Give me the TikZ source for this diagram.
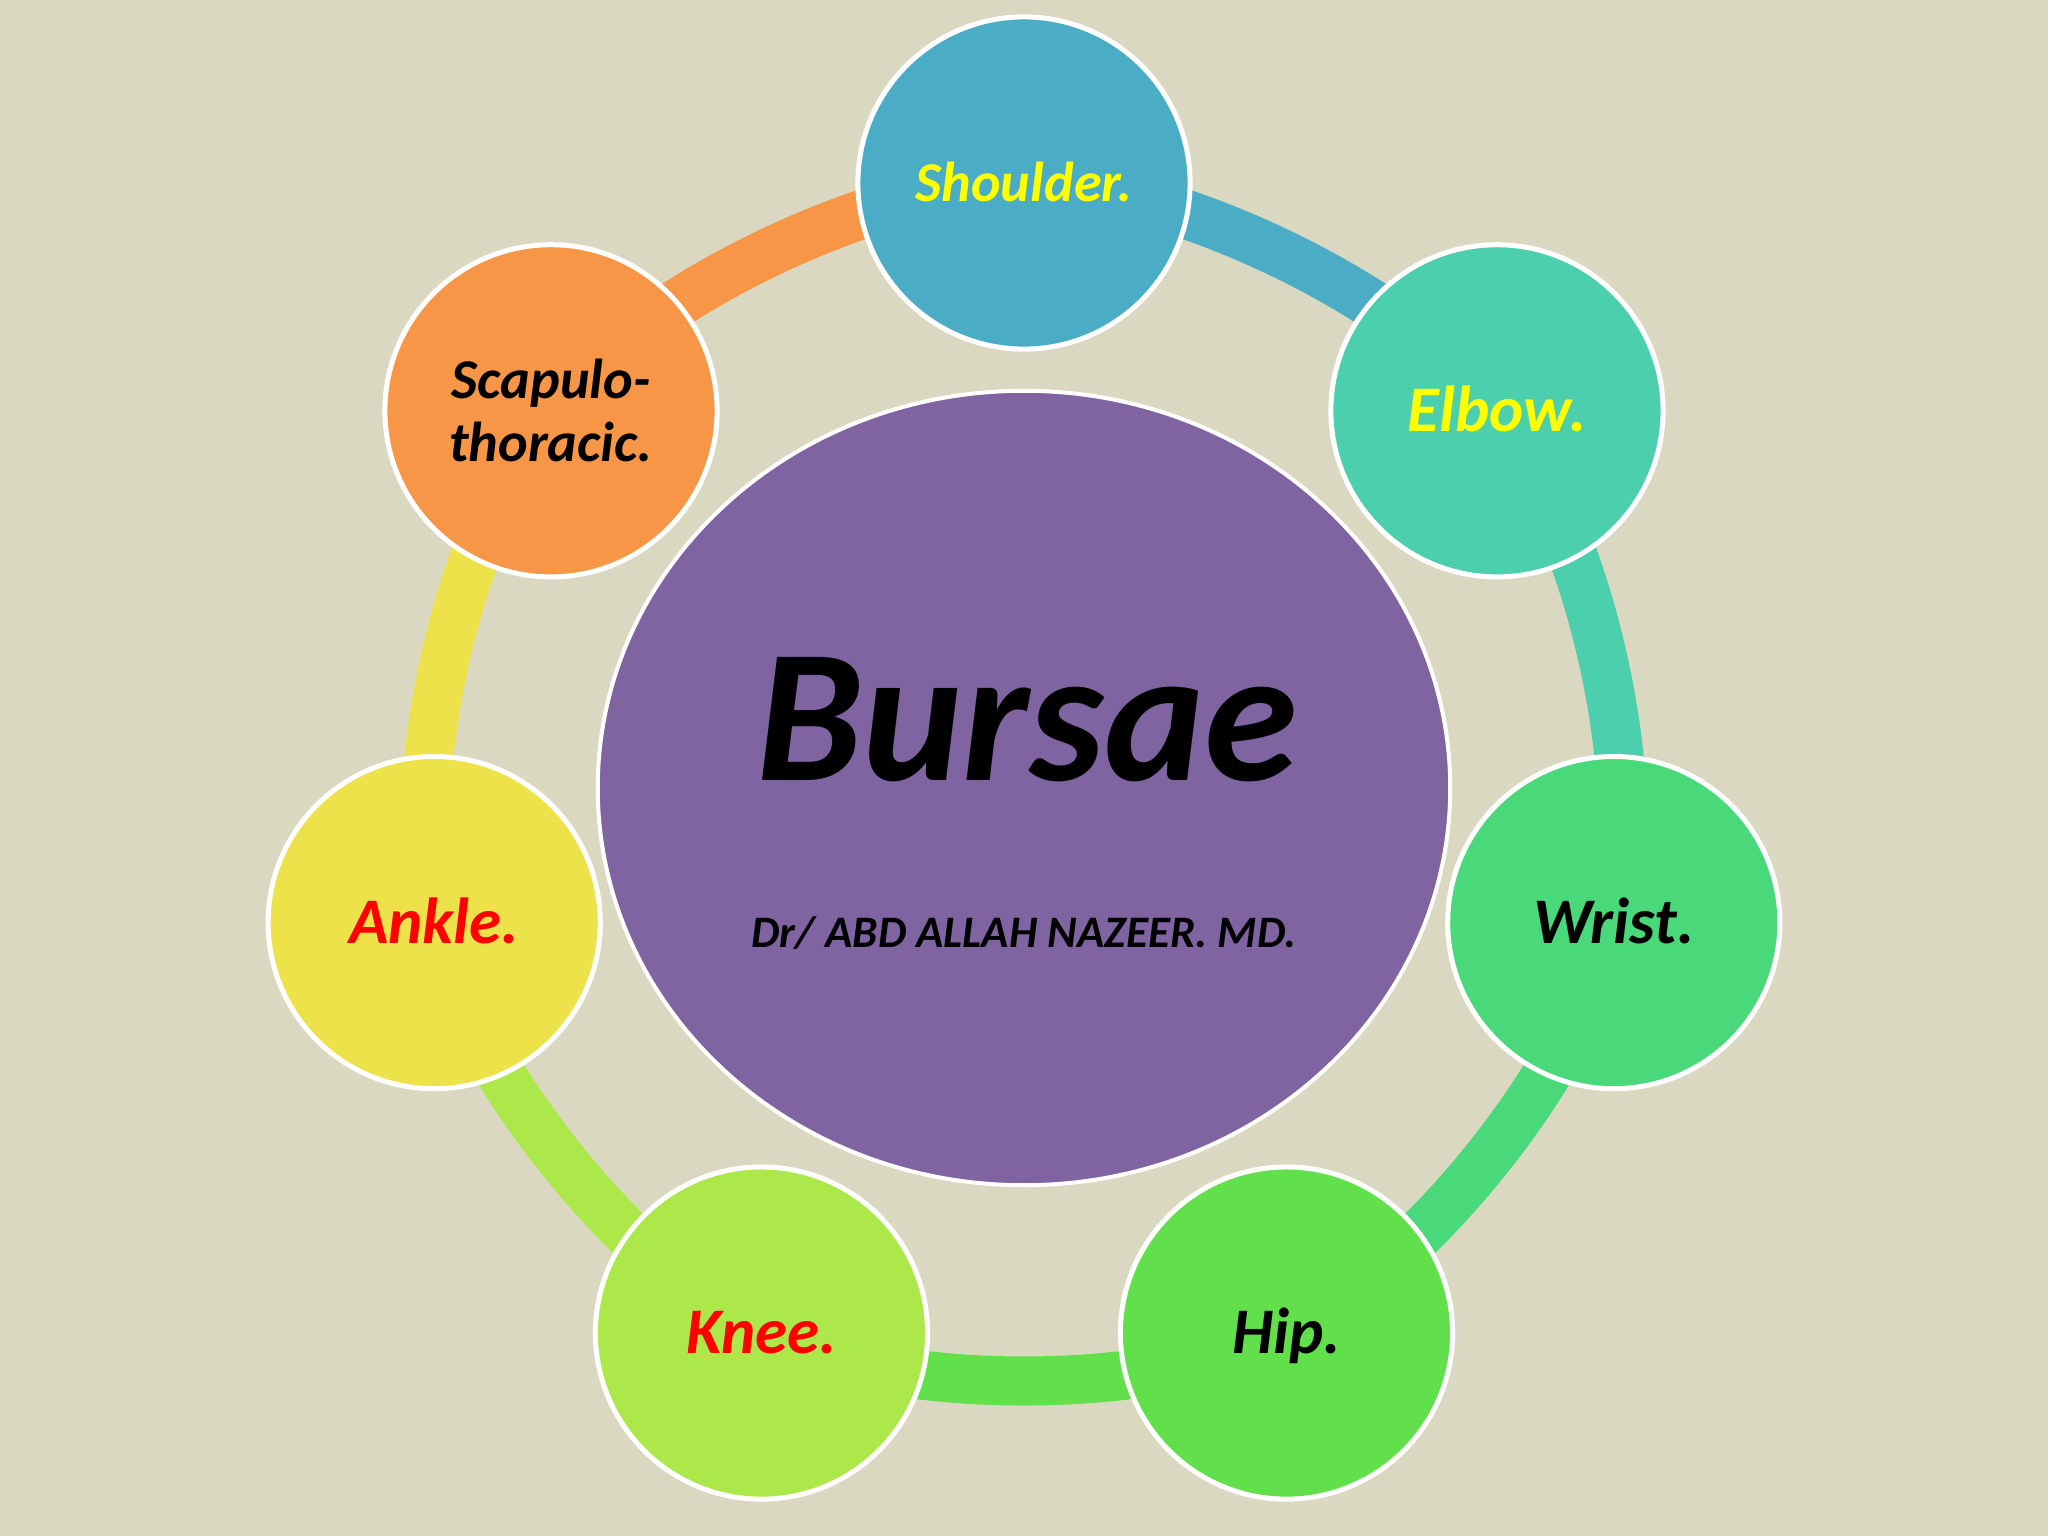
\documentclass[tikz,border=0pt]{standalone}
\usepackage{fontspec}
\setmainfont{Carlito}
\usetikzlibrary{shapes.geometric}
\pgfdeclarelayer{paper}
\pgfdeclarelayer{ring}
\pgfsetlayers{paper,ring,main}
\definecolor{bgcol}{HTML}{DBD8C1}
\definecolor{hubcol}{HTML}{8064A2}
\definecolor{shoulder}{HTML}{4BACC6}
\definecolor{elbow}{HTML}{4BCFAD}
\definecolor{wrist}{HTML}{49D87A}
\definecolor{hip}{HTML}{62E04B}
\definecolor{knee}{HTML}{ADE84A}
\definecolor{ankle}{HTML}{EEE24B}
\definecolor{scapulo}{HTML}{F79646}
\definecolor{lblyellow}{HTML}{FFFF00}
\definecolor{lblred}{HTML}{FF0000}
\begin{document}
\begin{tikzpicture}[x=0.01cm, y=0.01cm,
    bursa/.style = {circle, draw=white, line width=0.05cm, minimum size=3.32cm, inner sep=0pt, align=center},
    big/.style = {font=\fontsize{18.5}{22}\selectfont\bfseries\itshape, text height=11.8pt, text depth=0pt},
    small/.style = {font=\fontsize{16}{18}\selectfont\bfseries\itshape},
    band/.style = {line width=0.49cm},
    hub/.style = {ellipse, draw=white, line width=0.04cm, fill=hubcol, minimum width=8.52cm, minimum height=7.94cm},
    title/.style = {anchor=base, inner sep=0pt, font=\fontsize{54}{60}\selectfont\bfseries\itshape},
    author/.style = {anchor=base, inner sep=0pt, font=\fontsize{12.8}{15}\selectfont\bfseries\itshape}]
    \useasboundingbox (-1024,-748) rectangle (1024,788);

    % Nodes
    \node[hub] (C) at (0,0) {};
    \node[title] (T) at (3,8) {Bursae};
    \node[author] (D) at (0,-159) {Dr/ ABD ALLAH NAZEER. MD.};

    \node[bursa, small, fill=shoulder, text=lblyellow, text height=10.3pt, text depth=0pt] (B0) at ({90 - 360/7 * 0}: 605) {Shoulder.};
    \node[bursa, big, fill=elbow, text=lblyellow] (B1) at ({90 - 360/7 * 1}: 605) {Elbow.};
    \node[bursa, big, fill=wrist] (B2) at ({90 - 360/7 * 2}: 605) {Wrist.};
    \node[bursa, big, fill=hip] (B3) at ({90 - 360/7 * 3}: 605) {Hip.};
    \node[bursa, big, fill=knee, text=lblred] (B4) at ({90 - 360/7 * 4}: 605) {Knee.};
    \node[bursa, big, fill=ankle, text=lblred] (B5) at ({90 - 360/7 * 5}: 605) {Ankle.};
    \node[bursa, small, fill=scapulo] (B6) at ({90 - 360/7 * 6}: 605) {Scapulo-\\thoracic.};

    % Ring
    \begin{pgfonlayer}{ring}
    \draw[band, shoulder] (B0.center) to[bend left=25.7, looseness=0.72] (B1.center);
    \draw[band, elbow] (B1.center) to[bend left=25.7, looseness=0.72] (B2.center);
    \draw[band, wrist] (B2.center) to[bend left=25.7, looseness=0.72] (B3.center);
    \draw[band, hip] (B3.center) to[bend left=25.7, looseness=0.72] (B4.center);
    \draw[band, knee] (B4.center) to[bend left=25.7, looseness=0.72] (B5.center);
    \draw[band, ankle] (B5.center) to[bend left=25.7, looseness=0.72] (B6.center);
    \draw[band, scapulo] (B6.center) to[bend left=25.7, looseness=0.72] (B0.center);
    \end{pgfonlayer}

    \begin{pgfonlayer}{paper}
    \fill[bgcol] (-1024,-748) rectangle (1024,788);
    \end{pgfonlayer}
\end{tikzpicture}
\end{document}
